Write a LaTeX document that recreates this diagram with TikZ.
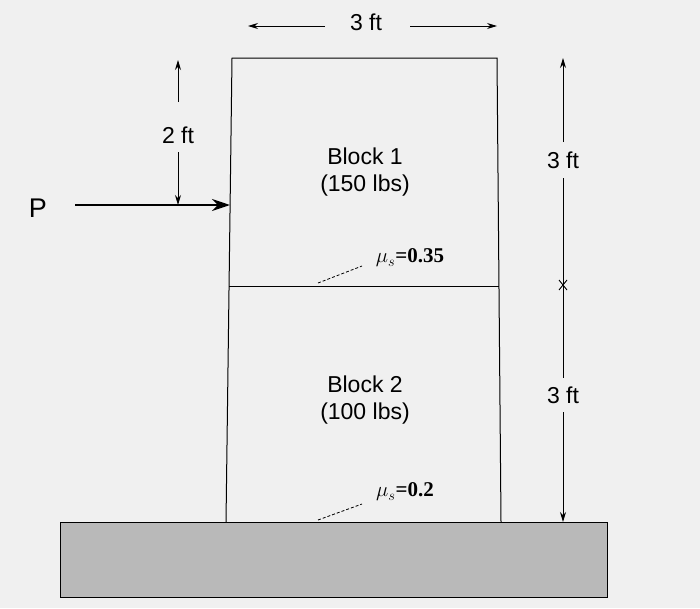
\documentclass[tikz,border=0pt]{standalone}
\usepackage{fontspec}
\setmainfont{Liberation Sans}
\newfontfamily\serf{Liberation Serif}
\usetikzlibrary{arrows.meta}
\begin{document}
\begin{tikzpicture}[x=1pt,y=-1pt,
  lbl/.style={font=\fontsize{23}{27}\selectfont,align=center,inner sep=1pt},
  mu/.style={font=\serf\bfseries\fontsize{21}{24}\selectfont,inner sep=1pt},
  dim/.style={line width=0.9pt,-{Stealth[length=10pt,width=6pt]}},
  lead/.style={densely dashed,line width=0.8pt}]
\fill[gray!12] (0,0) rectangle (700,608);
\useasboundingbox (0,0) rectangle (700,608);
% ground
\draw[fill=gray!55,line width=0.9pt] (60,522) rectangle (607,597);
% blocks
\draw[line width=1pt] (226,522) -- (232,58) -- (497,58) -- (501,522);
\draw[line width=1pt] (229,286) -- (499,286);
\node[lbl] (b1) at (365,172) {Block 1\\(150 lbs)};
\node[lbl] (b2) at (365,400) {Block 2\\(100 lbs)};
\node[mu] (m1) at (410,258) {$\mathbf{\mu}_{s}$=0.35};
\node[mu] (m2) at (405,492) {$\mathbf{\mu}_{s}$=0.2};
\coordinate (l1a) at (318,283); \coordinate (l1b) at (362,266);
\draw[lead] (l1a) -- (l1b);
\coordinate (l2a) at (318,520); \coordinate (l2b) at (362,504);
\draw[lead] (l2a) -- (l2b);
% top dim
\node[lbl] (t3) at (366,22) {3 ft};
\coordinate (ta) at (325,26); \coordinate (tb) at (248,26);
\coordinate (tc) at (410,26); \coordinate (td) at (497,26);
\draw[dim] (ta) -- (tb); \draw[dim] (tc) -- (td);
% right dim
\node[lbl] (r1) at (563,160) {3 ft};
\node[lbl] (r2) at (563,395) {3 ft};
\coordinate (ra) at (563,142); \coordinate (rb) at (563,58);
\draw[dim] (ra) -- (rb);
\draw[line width=0.9pt] (563,178) -- (563,378);
\draw[line width=0.9pt] (559,280) -- (567,290) (559,290) -- (567,280);
\coordinate (rc) at (563,412); \coordinate (rd) at (563,522);
\draw[dim] (rc) -- (rd);
% left dim
\node[lbl] (l2) at (178,135) {2 ft};
\coordinate (la) at (178,102); \coordinate (lb) at (178,60);
\draw[dim] (la) -- (lb);
\coordinate (lc) at (178,152); \coordinate (ld) at (178,205);
\draw[dim] (lc) -- (ld);
% P
\node[font=\fontsize{27}{30}\selectfont] (p) at (38,208) {P};
\coordinate (pa) at (75,205); \coordinate (pb) at (230,205);
\draw[line width=2.4pt,-{Stealth[length=18pt,width=12pt]}] (pa) -- (pb);
\end{tikzpicture}
\end{document}
